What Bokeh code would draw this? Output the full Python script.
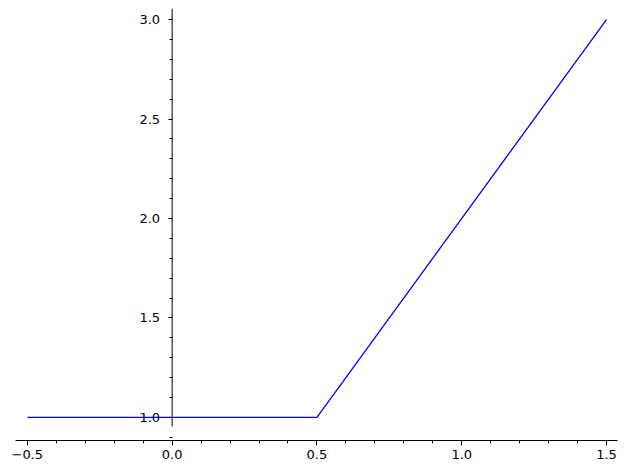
from bokeh.plotting import figure
from bokeh.models import Range1d, SingleIntervalTicker, CustomJSTickFormatter, ColumnDataSource
from bokeh.embed import file_html
from bokeh.resources import INLINE

# data
x_vals = [-0.5, 0.5, 1.5]
y_vals = [1.0, 1.0, 3.0]

x_tick_step = 0.5
y_tick_step = 0.5
minor_per_major = 5

x_lo, x_hi = -0.541, 1.538
y_lo, y_hi = 0.8835, 3.0557
y_spine_lo = 0.954

p = figure(width=618, height=461, output_backend="svg", toolbar_location=None,
           x_range=Range1d(x_lo, x_hi), y_range=Range1d(y_lo, y_hi),
           min_border_left=15, min_border_right=1, min_border_top=8, min_border_bottom=0)
p.outline_line_color = None
p.grid.visible = False
p.background_fill_color = "white"

fmt = CustomJSTickFormatter(code="return tick.toFixed(1).replace('-', '\\u2212');")

xa = p.xaxis[0]
xa.ticker = SingleIntervalTicker(interval=x_tick_step, num_minor_ticks=minor_per_major)
xa.formatter = fmt
xa.major_tick_out = 5
xa.major_tick_in = 0
xa.minor_tick_out = 3
xa.minor_tick_in = 0
xa.major_label_standoff = 4
xa.axis_line_color = "black"
xa.axis_line_width = 1
xa.major_label_text_font = "DejaVu Sans"
xa.major_label_text_font_size = "13px"
xa.major_label_text_color = "black"

ya = p.yaxis[0]
ya.fixed_location = 0
ya.ticker = SingleIntervalTicker(interval=y_tick_step, num_minor_ticks=minor_per_major)
ya.formatter = fmt
ya.major_tick_out = 4
ya.major_tick_in = 0
ya.minor_tick_out = 3
ya.minor_tick_in = 0
ya.major_label_standoff = 8
ya.axis_line_color = None
ya.major_label_text_font = "DejaVu Sans"
ya.major_label_text_font_size = "13px"
ya.major_label_text_color = "black"

# y spine (stops short of the x axis, as in the reference)
p.segment(x0=[0], y0=[y_spine_lo], x1=[0], y1=[y_hi], line_color="black", line_width=1)

src = ColumnDataSource(dict(x=x_vals, y=y_vals))
p.line("x", "y", source=src, line_color="blue", line_width=1.3)

open("out.html", "w").write(file_html(p, INLINE))
